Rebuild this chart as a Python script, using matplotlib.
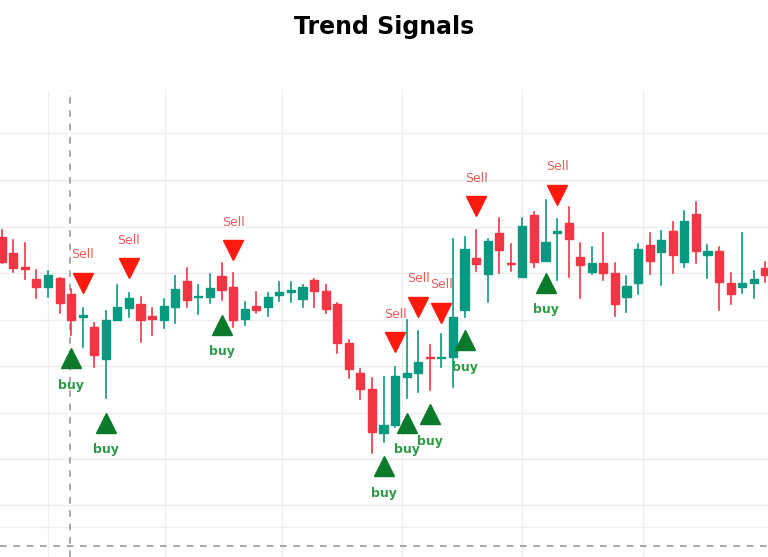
import matplotlib
matplotlib.use("Agg")
import matplotlib.pyplot as plt

opens  = [320,304,290,278,270,279,263,240,230,198,237,249,253,241,237,250,276,260,260,281,270,238,251,250,262,265.5,258,277,266,253,214,184,168,124,132,180,184,199.5,199,200,247,299,283,324,293.5,280,342,296,324,334,300,285,294,284,260,274,312,305,326,295,343,302,306,274,270,274,289]
highs  = [327,317,314,287,286,279,268,249,234,246,272,264,260,249,258,281,289,272,283,294,284,255,265,264,275,275,272,278,272,254,217,188,179,180,190,237,226,212,223,318,320,327,318,339,313,339,345,357,338,350,314,310,324,294,281,313,324,326,335,346,355,312,310,284,324,286,295]
lows   = [294,285,278,259,260,244,222,210,190,159,237,240,215,222,229,234,250,243,254,257,230,232,244,241,256,255,250,250,244,204,179,158,104,115,130,159,165,167,190,170,240,286,255,284,286,280,290,296,277,280,259,283,277,241,245,263,283,272,284,290,294,279,247,253,264,259,275]
closes = [295,289,288,270,282,254,237,242,202,237,250,259,237,238,251,268,257,260.5,269,267,237,248,247,260,265,266,270,266,248,214,188,168,125,132,181,184,195,199,199.5,240,308,293,316,307,293,331,295,315,326,318,292,294,284,253,271,308,296,317,302,336,306,306,275,263,274,278,282]

sell_idx = [7, 11, 20, 34, 36, 38, 41, 48]
sell_px  = [274, 289, 307, 215, 250, 244, 351, 362]
buy_idx  = [6, 9, 19, 33, 35, 37, 40, 47]
buy_px   = [199, 134, 232, 91, 134, 143, 217, 274]

grid_y = [30, 52, 98, 144, 191, 237, 284, 330, 377, 424]
grid_x = [4.0, 14.1, 24.2, 34.6, 45.0, 55.4]

UP, DN = "#089981", "#F23645"

fig = plt.figure(figsize=(7.68, 5.57), dpi=100)
ax = fig.add_axes([0, 0, 1, 467/557])
ax.set_xlim(-0.147, 66.23)
ax.set_ylim(0, 467)
for s in ax.spines.values():
    s.set_visible(False)
ax.set_xticks([]); ax.set_yticks([])
for g in grid_y:
    ax.axhline(g, color="#eeeeee", lw=0.9, zorder=0)
for g in grid_x:
    ax.axvline(g, color="#eeeeee", lw=0.9, zorder=0)
ax.axvline(5.9, color="#9a9a9a", lw=1.2, ls=(0, (4, 4)), zorder=1)
ax.axhline(11, color="#9a9a9a", lw=1.2, ls=(0, (4, 4)), zorder=1)

w = 0.7
for i, (o, h, l, c) in enumerate(zip(opens, highs, lows, closes)):
    col = UP if c >= o else DN
    ax.plot([i, i], [l, h], color=col, lw=1.2, zorder=2)
    bot = min(o, c); hgt = max(abs(c - o), 1.5)
    ax.add_patch(plt.Rectangle((i - w/2, bot), w, hgt, color=col, zorder=3))

ax.plot(sell_idx, sell_px, linestyle="none", marker="v", markersize=14, color="#ff1a0d", zorder=4)
for i, p in zip(sell_idx, sell_px):
    ax.text(i, p + 28, "Sell", color="#f05a5a", fontsize=9, ha="center", va="center", zorder=5)
ax.plot(buy_idx, buy_px, linestyle="none", marker="^", markersize=14, color="#0b7a2a", zorder=4)
for i, p in zip(buy_idx, buy_px):
    ax.text(i, p - 27, "buy", color="#2e9a48", fontsize=9, ha="center", va="center", fontweight="bold", zorder=5)

fig.text(0.5, 1 - 27/557, "Trend Signals", ha="center", va="center", fontsize=17, fontweight="bold")
fig.savefig("out.png", dpi=100)
